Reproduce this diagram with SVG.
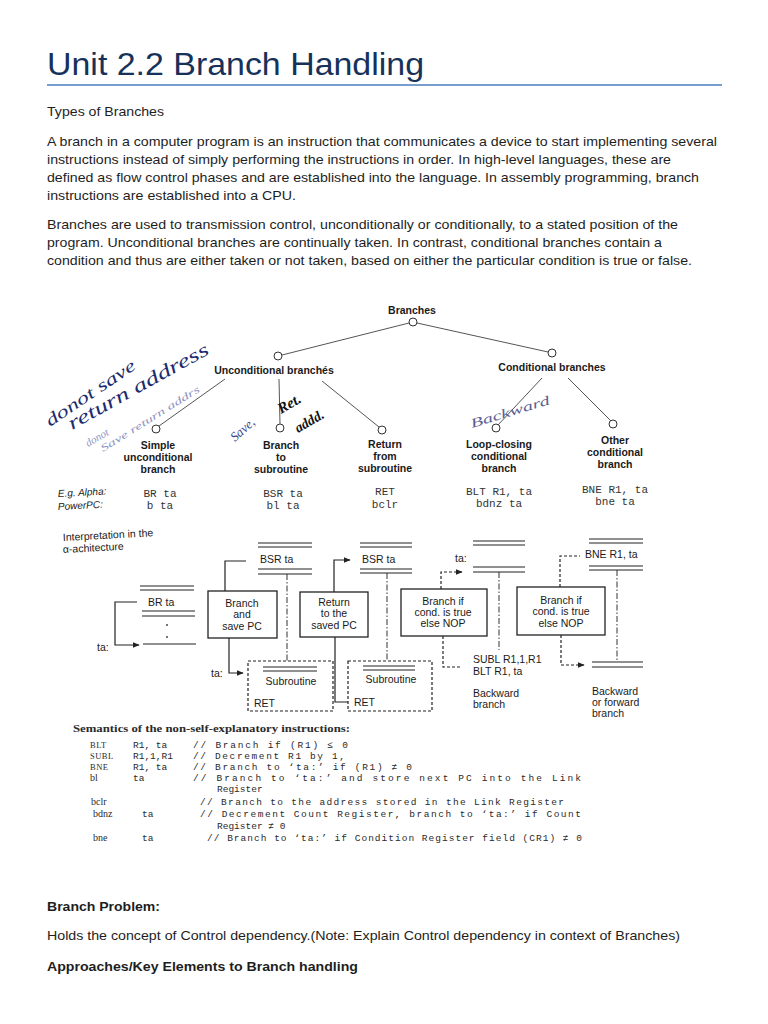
<svg xmlns="http://www.w3.org/2000/svg" width="768" height="1024" viewBox="0 0 768 1024">
<defs>
<style>
.title{font-family:"Liberation Sans",Arial,sans-serif;font-size:32px;fill:#17325a}
.body{font-family:"Liberation Sans",Arial,sans-serif;font-size:13px;fill:#1e1e1e}
.bodyb{font-family:"Liberation Sans",Arial,sans-serif;font-size:13px;font-weight:bold;fill:#1e1e1e}
.nl{font-family:"Liberation Sans",Arial,sans-serif;font-size:10.5px;font-weight:bold;fill:#1a1a1a;text-anchor:middle}
.mono{font-family:"Liberation Mono","Courier New",monospace;font-size:11px;fill:#333;text-anchor:middle}
.it{font-family:"Liberation Sans",Arial,sans-serif;font-size:10px;font-style:italic;fill:#222}
.fs{font-family:"Liberation Sans",Arial,sans-serif;font-size:10.5px;fill:#1a1a1a}
.fsm{font-family:"Liberation Sans",Arial,sans-serif;font-size:10.5px;fill:#1a1a1a;text-anchor:middle}
.sem{font-family:"Liberation Mono","Courier New",monospace;font-size:9.5px;fill:#2a2a2a}
.sc{font-family:"Liberation Serif","Times New Roman",serif;font-size:8.5px;fill:#2a2a2a;letter-spacing:0.5px}
.ser{font-family:"Liberation Serif","Times New Roman",serif;font-size:10px;fill:#2a2a2a}
.hw{font-family:"Liberation Serif","Times New Roman",serif;font-style:italic;fill:#1c2b6e}
.tl{stroke:#555;stroke-width:1;fill:none}
.nd{fill:#fff;stroke:#333;stroke-width:1}
.ln{stroke:#222;stroke-width:1.2;fill:none}
.box{stroke:#222;stroke-width:1.3;fill:#fff}
.dbox{stroke:#222;stroke-width:1.2;fill:none;stroke-dasharray:3 2}
.dd{stroke:#333;stroke-width:1;fill:none;stroke-dasharray:6 2 1.5 2}
.dot{stroke:#222;stroke-width:1.2;fill:none;stroke-dasharray:3 2}
</style>
<marker id="ah" viewBox="0 0 10 10" refX="9" refY="5" markerWidth="7" markerHeight="7" orient="auto" markerUnits="userSpaceOnUse">
<path d="M0,1 L10,5 L0,9 z" fill="#222"/>
</marker>
</defs>
<rect width="768" height="1024" fill="#fff"/>

<g id="header">
<text class="title" x="47" y="75" textLength="377" lengthAdjust="spacingAndGlyphs">Unit 2.2 Branch Handling</text>
<line x1="47" y1="85" x2="722" y2="85" stroke="#4a7ebb" stroke-width="1.5"/>
<text class="body" x="47" y="116" textLength="117" lengthAdjust="spacingAndGlyphs">Types of Branches</text>
<text class="body" x="47" y="146" textLength="670" lengthAdjust="spacingAndGlyphs">A branch in a computer program is an instruction that communicates a device to start implementing several</text>
<text class="body" x="47" y="164" textLength="624" lengthAdjust="spacingAndGlyphs">instructions instead of simply performing the instructions in order. In high-level languages, these are</text>
<text class="body" x="47" y="182" textLength="652" lengthAdjust="spacingAndGlyphs">defined as flow control phases and are established into the language. In assembly programming, branch</text>
<text class="body" x="47" y="200" textLength="249" lengthAdjust="spacingAndGlyphs">instructions are established into a CPU.</text>
<text class="body" x="47" y="229" textLength="631" lengthAdjust="spacingAndGlyphs">Branches are used to transmission control, unconditionally or conditionally, to a stated position of the</text>
<text class="body" x="47" y="247" textLength="615" lengthAdjust="spacingAndGlyphs">program. Unconditional branches are continually taken. In contrast, conditional branches contain a</text>
<text class="body" x="47" y="265" textLength="645" lengthAdjust="spacingAndGlyphs">condition and thus are either taken or not taken, based on either the particular condition is true or false.</text>
</g>

<g id="tree-connectors">
<line class="tl" x1="409" y1="323" x2="282" y2="355"/>
<line class="tl" x1="417" y1="323" x2="548" y2="352"/>
<line class="tl" x1="225" y1="379" x2="159" y2="426"/>
<line class="tl" x1="279" y1="379" x2="280" y2="424"/>
<line class="tl" x1="322" y1="381" x2="379" y2="427"/>
<line class="tl" x1="542" y1="378" x2="498" y2="425"/>
<line class="tl" x1="568" y1="378" x2="611" y2="421"/>
</g>

<g id="tree-nodes">
<g id="n-branches"><text class="nl" x="412" y="314">Branches</text><circle class="nd" cx="413" cy="322" r="4"/></g>
<g id="n-uncond"><circle class="nd" cx="278" cy="356" r="4"/><text class="nl" x="274" y="374" font-size="11">Unconditional branchés</text></g>
<g id="n-cond"><circle class="nd" cx="552" cy="353" r="4"/><text class="nl" x="552" y="371" font-size="11">Conditional branches</text></g>
<g id="n-simple"><circle class="nd" cx="156" cy="429" r="4"/><text class="nl" x="158" y="449">Simple</text><text class="nl" x="158" y="461">unconditional</text><text class="nl" x="158" y="473">branch</text>
<text class="mono" x="160" y="497">BR ta</text><text class="mono" x="160" y="509">b ta</text></g>
<g id="n-bsr"><circle class="nd" cx="280" cy="428" r="4"/><text class="nl" x="281" y="449">Branch</text><text class="nl" x="281" y="461">to</text><text class="nl" x="281" y="473">subroutine</text>
<text class="mono" x="283" y="497">BSR ta</text><text class="mono" x="283" y="509">bl ta</text></g>
<g id="n-ret"><circle class="nd" cx="382" cy="430" r="4"/><text class="nl" x="385" y="448">Return</text><text class="nl" x="385" y="460">from</text><text class="nl" x="385" y="472">subroutine</text>
<text class="mono" x="385" y="495">RET</text><text class="mono" x="385" y="508">bclr</text></g>
<g id="n-loop"><circle class="nd" cx="496" cy="428" r="4"/><text class="nl" x="499" y="448">Loop-closing</text><text class="nl" x="499" y="460">conditional</text><text class="nl" x="499" y="472">branch</text>
<text class="mono" x="499" y="495">BLT R1, ta</text><text class="mono" x="499" y="507">bdnz ta</text></g>
<g id="n-other"><circle class="nd" cx="613" cy="424" r="4"/><text class="nl" x="615" y="444">Other</text><text class="nl" x="615" y="456">conditional</text><text class="nl" x="615" y="468">branch</text>
<text class="mono" x="615" y="493">BNE R1, ta</text><text class="mono" x="615" y="505">bne ta</text></g>
<g id="eg"><text class="it" x="58" y="497" transform="rotate(-3 58 497)">E.g. Alpha:</text><text class="it" x="58" y="510" transform="rotate(-3 58 510)">PowerPC:</text></g>
</g>

<g id="handwriting">
<text class="hw" x="50" y="427" font-size="17" textLength="105" lengthAdjust="spacingAndGlyphs" transform="rotate(-34 50 427)">donot save</text>
<text class="hw" x="72" y="430" font-size="19" textLength="158" lengthAdjust="spacingAndGlyphs" transform="rotate(-29 72 430)">return address</text>
<text class="hw" x="88" y="447" font-size="11" style="fill:#8f93c4" transform="rotate(-30 88 447)">donot</text>
<text class="hw" x="103" y="452" font-size="10" textLength="115" lengthAdjust="spacingAndGlyphs" style="fill:#8f93c4" transform="rotate(-32 103 452)">Save return addrs</text>
<text class="hw" x="235" y="442" font-size="13" style="fill:#3a4590" transform="rotate(-42 235 442)">Save,</text>
<text class="hw" x="281" y="414" font-size="15" font-weight="bold" style="fill:#111" transform="rotate(-30 281 414)">Ret.</text>
<text class="hw" x="298" y="433" font-size="14" font-weight="bold" style="fill:#111" transform="rotate(-30 298 433)">addd.</text>
<text class="hw" x="472" y="428" font-size="13" textLength="82" lengthAdjust="spacingAndGlyphs" style="fill:#5a6090" transform="rotate(-17 472 428)">Backward</text>
</g>

<g id="interp-label">
<text class="fs" x="63" y="541" transform="rotate(-3 63 541)">Interpretation in the</text>
<text class="fs" x="63" y="553" transform="rotate(-3 63 553)">α-achitecture</text>
</g>

<g id="connectors">
<path class="ln" d="M137 602 H115 V645 H139" marker-end="url(#ah)"/>
<path class="ln" d="M225 591 V561 H246"/>
<path class="ln" d="M229 638 V673 H243" marker-end="url(#ah)"/>
<path class="dd" d="M287 574 V661"/>
<path class="ln" d="M334 592 V560 H350" marker-end="url(#ah)"/>
<path class="ln" d="M335 637 V702 H348"/>
<path class="dd" d="M387 573 V661"/>
<path class="dot" d="M441 589 V572 H462" marker-end="url(#ah)"/>
<path class="dd" d="M499 572 V650"/>
<path class="dot" d="M443 636 V667 H462"/>
<path class="dot" d="M560 587 V556 H580"/>
<path class="dd" d="M617 570 V662"/>
<path class="dot" d="M561 635 V665 H584" marker-end="url(#ah)"/>
</g>

<g id="br-block">
<line class="ln" x1="140" y1="586" x2="194" y2="586"/><line class="ln" x1="140" y1="590" x2="194" y2="590"/>
<text class="fs" x="148" y="606">BR  ta</text>
<line class="ln" x1="142" y1="611" x2="195" y2="611"/><line class="ln" x1="142" y1="616" x2="195" y2="616"/>
<circle cx="167" cy="625" r="0.9" fill="#333"/><circle cx="167" cy="637" r="0.9" fill="#333"/>
<line class="ln" x1="143" y1="644" x2="196" y2="644"/>
<text class="fs" x="97" y="651">ta:</text>
</g>

<g id="bsr-block-1">
<line class="ln" x1="258" y1="543" x2="312" y2="543"/><line class="ln" x1="258" y1="547" x2="312" y2="547"/>
<text class="fs" x="260" y="563">BSR  ta</text>
<line class="ln" x1="258" y1="569" x2="312" y2="569"/><line class="ln" x1="258" y1="574" x2="312" y2="574"/>
</g>
<g id="box-branch-save">
<rect class="box" x="208" y="591" width="69" height="47"/>
<text class="fsm" x="242" y="607">Branch</text><text class="fsm" x="242" y="618">and</text><text class="fsm" x="242" y="630">save PC</text>
</g>
<g id="sub-1">
<rect class="dbox" x="248" y="661" width="85" height="50"/>
<line class="ln" x1="263" y1="667" x2="317" y2="667"/><line class="ln" x1="263" y1="671" x2="317" y2="671"/>
<text class="fsm" x="291" y="685">Subroutine</text>
<text class="fs" x="254" y="707">RET</text>
<text class="fs" x="211" y="677">ta:</text>
</g>

<g id="box-return">
<rect class="box" x="300" y="592" width="68" height="45"/>
<text class="fsm" x="334" y="606">Return</text><text class="fsm" x="334" y="617">to the</text><text class="fsm" x="334" y="629">saved PC</text>
</g>
<g id="bsr-block-2">
<line class="ln" x1="360" y1="543" x2="412" y2="543"/><line class="ln" x1="360" y1="547" x2="412" y2="547"/>
<text class="fs" x="362" y="563">BSR  ta</text>
<line class="ln" x1="360" y1="569" x2="412" y2="569"/><line class="ln" x1="360" y1="573" x2="412" y2="573"/>
</g>
<g id="sub-2">
<rect class="dbox" x="348" y="661" width="84" height="50"/>
<line class="ln" x1="363" y1="666" x2="415" y2="666"/><line class="ln" x1="363" y1="670" x2="415" y2="670"/>
<text class="fsm" x="391" y="683">Subroutine</text>
<text class="fs" x="354" y="706">RET</text>
</g>

<g id="box-cond-1">
<rect class="box" x="401" y="589" width="86" height="47"/>
<text class="fsm" x="443" y="605">Branch if</text><text class="fsm" x="443" y="616">cond. is true</text><text class="fsm" x="443" y="627">else NOP</text>
</g>
<g id="loop-block">
<text class="fs" x="455" y="562">ta:</text>
<line class="ln" x1="473" y1="541" x2="525" y2="541"/><line class="ln" x1="473" y1="545" x2="525" y2="545"/>
<line class="ln" x1="473" y1="567" x2="525" y2="567"/><line class="ln" x1="473" y1="572" x2="525" y2="572"/>
<text class="fs" x="473" y="663">SUBL R1,1,R1</text>
<text class="fs" x="473" y="675">BLT R1, ta</text>
<text class="fs" x="473" y="697">Backward</text>
<text class="fs" x="473" y="708">branch</text>
</g>

<g id="box-cond-2">
<rect class="box" x="517" y="587" width="88" height="48"/>
<text class="fsm" x="561" y="604">Branch if</text><text class="fsm" x="561" y="615">cond. is true</text><text class="fsm" x="561" y="627">else NOP</text>
</g>
<g id="bne-block">
<line class="ln" x1="589" y1="539" x2="643" y2="539"/><line class="ln" x1="589" y1="543" x2="643" y2="543"/>
<text class="fs" x="585" y="558">BNE R1, ta</text>
<line class="ln" x1="589" y1="566" x2="643" y2="566"/><line class="ln" x1="589" y1="570" x2="643" y2="570"/>
<line class="ln" x1="592" y1="662" x2="643" y2="662"/><line class="ln" x1="592" y1="667" x2="643" y2="667"/>
<text class="fs" x="592" y="695">Backward</text>
<text class="fs" x="592" y="706">or forward</text>
<text class="fs" x="592" y="717">branch</text>
</g>

<g id="semantics">
<text class="ser" x="73" y="732" font-weight="bold" font-size="11.5" textLength="277" lengthAdjust="spacingAndGlyphs">Semantics of the non-self-explanatory instructions:</text>
<text class="sc" x="90" y="748">BLT</text><text class="sem" x="133" y="748">R1, ta</text><text class="sem" x="193" y="748" textLength="155" lengthAdjust="spacing">// Branch if (R1) ≤ 0</text>
<text class="sc" x="90" y="759">SUBL</text><text class="sem" x="133" y="759">R1,1,R1</text><text class="sem" x="193" y="759" textLength="152" lengthAdjust="spacing">// Decrement R1 by 1,</text>
<text class="sc" x="90" y="770">BNE</text><text class="sem" x="133" y="770">R1, ta</text><text class="sem" x="193" y="770" textLength="219" lengthAdjust="spacing">// Branch to ‘ta:’ if (R1) ≠ 0</text>
<text class="ser" x="90" y="781">bl</text><text class="sem" x="133" y="781">ta</text><text class="sem" x="193" y="781" textLength="388" lengthAdjust="spacing">// Branch to ‘ta:’ and store next PC into the Link</text>
<text class="sem" x="217" y="792">Register</text>
<text class="ser" x="91" y="805">bclr</text><text class="sem" x="200" y="805" textLength="364" lengthAdjust="spacing">// Branch to the address stored in the Link Register</text>
<text class="ser" x="93" y="817">bdnz</text><text class="sem" x="142" y="817">ta</text><text class="sem" x="200" y="817" textLength="381" lengthAdjust="spacing">// Decrement Count Register, branch to ‘ta:’ if Count</text>
<text class="sem" x="217" y="829">Register ≠ 0</text>
<text class="ser" x="93" y="841">bne</text><text class="sem" x="142" y="841">ta</text><text class="sem" x="207" y="841" textLength="375" lengthAdjust="spacing">// Branch to ‘ta:’ if Condition Register field (CR1) ≠ 0</text>
</g>

<g id="footer">
<text class="bodyb" x="47" y="911" textLength="113" lengthAdjust="spacingAndGlyphs">Branch Problem:</text>
<text class="body" x="47" y="940" textLength="633" lengthAdjust="spacingAndGlyphs">Holds the concept of Control dependency.(Note: Explain Control dependency in context of Branches)</text>
<text class="bodyb" x="47" y="971" textLength="311" lengthAdjust="spacingAndGlyphs">Approaches/Key Elements to Branch handling</text>
</g>
</svg>
